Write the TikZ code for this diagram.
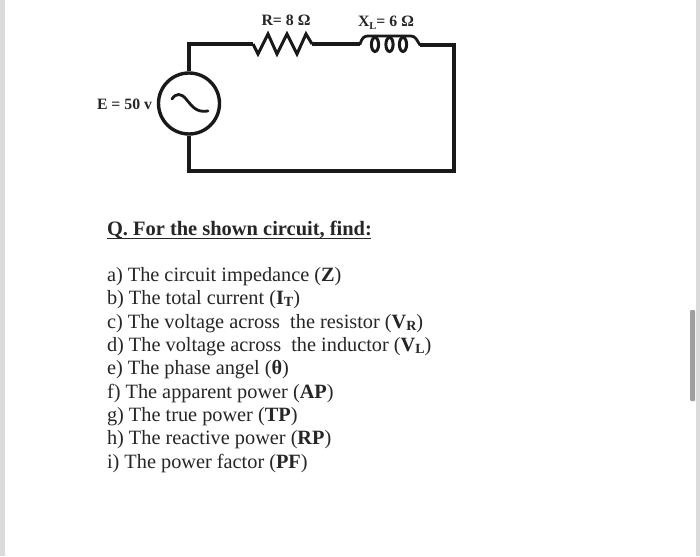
\documentclass[tikz,border=0pt]{standalone}
\usepackage{fontspec}
\setmainfont{Liberation Serif}
\newcommand{\subb}[1]{\raisebox{-0.12em}{\fontsize{14}{14}\selectfont\bfseries #1}}
\newcommand{\subl}[1]{\raisebox{-0.15em}{\fontsize{10.5}{11}\selectfont\bfseries #1}}
\tikzset{
  x=1pt,y=-1pt,
  wire/.style={line width=3.6pt,black!90,line join=miter},
  thinwire/.style={line width=2.8pt,black!90,line cap=round},
  lab/.style={inner sep=0pt,outer sep=0pt,anchor=base,font=\fontsize{15.8}{16}\selectfont\bfseries,text=black!85},
  item/.style={inner sep=0pt,outer sep=0pt,anchor=base west,font=\fontsize{20.3}{22}\selectfont,text=black!85},
  strip/.style={draw=none,fill=black!14}
}
\begin{document}
\begin{tikzpicture}
\useasboundingbox (0,0) rectangle (700,556);
\fill[white] (0,0) rectangle (700,556);
% window edges and scrollbar
\fill[strip] (0,0) rectangle (4.5,556);
\fill[strip] (696,0) rectangle (700,556);
\fill[black!38,rounded corners=1pt] (690,310) rectangle (695,401);
% circuit anchors
\node[circle,draw=black!90,line width=3.4pt,minimum size=61pt,inner sep=0pt] (src) at (189,103.5) {};
\coordinate (tl) at (189,44);
\coordinate (rs) at (253,44);
\coordinate (re) at (312,44);
\coordinate (ls) at (360,44);
\coordinate (le) at (420,45);
\coordinate (tr) at (454,45);
\coordinate (br) at (454,171);
\coordinate (bl) at (189,171);
% wires
\draw[wire] (src.north) -- (tl) -- (rs);
\draw[wire] (re) -- (ls);
\draw[wire] (le) -- (tr) -- (br) -- (bl) -- (src.south);
% resistor
\draw[wire,line width=3pt] (rs) -- (258,54) -- (268,34) -- (277,54) -- (287,34) -- (297,54) -- (306,34) -- (re);
% inductor
\draw[thinwire] (ls) .. controls (362,38) and (364,36) .. (368,36) -- (411,36) .. controls (416,36) and (417,41) .. (le);
\foreach \cx in {375,389.5,403}
  \draw[line width=3pt,black!90] (\cx,44.5) ellipse [x radius=3.6,y radius=7];
% source wave
\draw[line width=2.8pt,black!90,line cap=round] (172,99) .. controls (176,93) and (181,93) .. (186,99) .. controls (192,106) and (196,113) .. (208,111);
% labels
\node[lab] (lr) at (286,26) {R= 8 Ω};
\node[lab] (ll) at (386,27) {X\subl{L}= 6 Ω};
\node[lab,anchor=base west] (le50) at (97,110) {E = 50 v};
% text
\node[item,font=\fontsize{20.45}{22}\selectfont\bfseries] (title) at (107,235) {Q. For the shown circuit, find:};
\draw[line width=1.8pt,black!85] (107,238.5) -- (371,238.5);
\node[item] (a) at (107,281) {a) The circuit impedance (\textbf{Z})};
\node[item] (b) at (107,304.5) {b) The total current (\textbf{I}\subb{T})};
\node[item] (c) at (107,328) {c) The voltage across\ \ the resistor (\textbf{V}\subb{R})};
\node[item] (d) at (107,351) {d) The voltage across\ \ the inductor (\textbf{V}\subb{L})};
\node[item] (e) at (107,374.5) {e) The phase angel (\textbf{θ})};
\node[item] (f) at (107,398) {f) The apparent power (\textbf{AP})};
\node[item] (g) at (107,421) {g) The true power (\textbf{TP})};
\node[item] (h) at (107,444.5) {h) The reactive power (\textbf{RP})};
\node[item] (i) at (107,468) {i) The power factor (\textbf{PF})};
\end{tikzpicture}
\end{document}
